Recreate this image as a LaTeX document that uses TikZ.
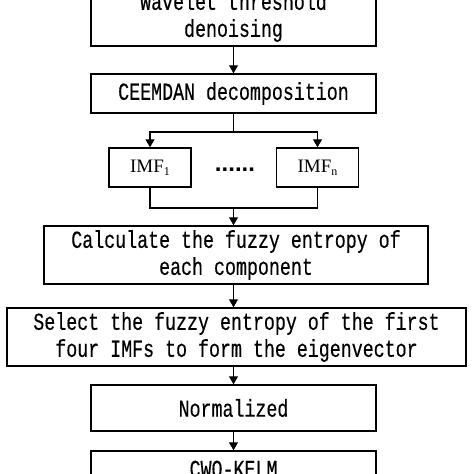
\documentclass[tikz,border=0pt]{standalone}
\usepackage{fontspec}
\newfontfamily\boxfont[FakeStretch=0.75,FakeBold=0.35]{Liberation Mono}
\newfontfamily\imffont{Liberation Serif}
\newfontfamily\dotfont{Liberation Sans}
\usetikzlibrary{arrows.meta}
\begin{document}
\begin{tikzpicture}[x=1pt,y=-1pt,
  box/.style={draw, line width=1.5pt, inner sep=0pt, align=center,
    font=\boxfont\fontsize{24.4}{27}\selectfont},
  imfbox/.style={draw, line width=1.5pt, inner sep=0pt, align=center,
    minimum width=82pt, minimum height=39pt, font=\imffont\fontsize{19}{19}\selectfont},
  arr/.style={-{Triangle[length=8pt,width=9pt]}, line width=1.3pt},
  ln/.style={line width=1.3pt}]
\useasboundingbox (0,0) rectangle (474,474);
\node[box, minimum width=285pt, minimum height=58pt] (wt) at (233.5,17) {Wavelet threshold\\denoising};
\node[box, minimum width=285pt, minimum height=39pt] (ce) at (233.5,93.5) {CEEMDAN decomposition};
\node[imfbox] (imf1) at (150,167.5) {IMF\raisebox{-3pt}{\fontsize{12}{12}\selectfont 1}};
\node[imfbox] (imfn) at (317.5,167.5) {IMF\raisebox{-3pt}{\fontsize{12}{12}\selectfont n}};
\node[font=\dotfont\bfseries\fontsize{24}{24}\selectfont, inner sep=0pt] (dots) at (235,170) {......};
\node[box, minimum width=384pt, minimum height=58pt] (calc) at (236,255) {Calculate the fuzzy entropy of\\each component};
\node[box, minimum width=459pt, minimum height=58pt] (sel) at (236.5,337) {Select the fuzzy entropy of the first\\four IMFs to form the eigenvector};
\node[box, minimum width=285pt, minimum height=46pt] (norm) at (233.5,408) {Normalized};
\node[box, minimum width=285pt, minimum height=36pt] (cwo) at (233.5,469) {CWO-KELM};
\coordinate (split) at (233.5,132);
\coordinate (merge) at (233.5,208);
\draw[arr] (wt.south) -- (ce.north);
\draw[ln] (ce.south) -- (split);
\draw[arr] (split) -| (imf1.north);
\draw[arr] (split) -| (imfn.north);
\draw[ln] (imf1.south) |- (merge);
\draw[ln] (imfn.south) |- (merge);
\draw[arr] (merge) -- (merge |- calc.north);
\draw[arr] (merge |- calc.south) -- (merge |- sel.north);
\draw[arr] (merge |- sel.south) -- (norm.north);
\draw[arr] (norm.south) -- (cwo.north);
\end{tikzpicture}
\end{document}
